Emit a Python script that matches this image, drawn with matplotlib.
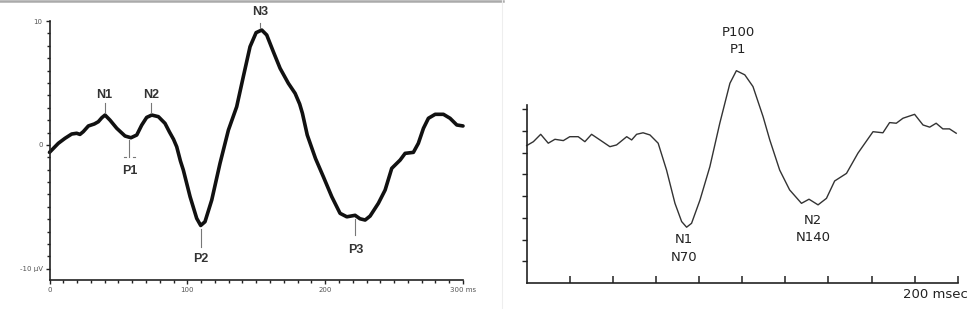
import matplotlib
matplotlib.use("Agg")
import matplotlib.pyplot as plt
from matplotlib.ticker import MultipleLocator, FixedLocator

# ---------------- data: left panel (ms, µV) ----------------
left_t = [0, 6.4, 11.2, 16.1, 19.7, 22.1, 24.5, 28.2, 32.5, 35.4, 38, 40.3, 43.9, 48.8, 54.8,
          59.1, 63.3, 66.9, 70.5, 74.2, 79, 83.8, 87, 90, 92.3, 95, 97.1, 102, 106.8, 109.7,
          112.8, 117.7, 123.7, 129.8, 135.8, 140.6, 145.5, 149.9, 154, 157.6, 162.4, 167.3,
          173.3, 178.2, 181.5, 183.5, 187, 193, 198.7, 204.8, 210.8, 215.7, 221.7, 225.3, 229,
          232.6, 238.6, 243.5, 248.3, 254.4, 258, 264, 267.6, 271.3, 274.9, 279.8, 285.8,
          290.6, 295.5, 300]
left_v = [-0.6, 0.13, 0.53, 0.88, 0.94, 0.85, 1.07, 1.53, 1.69, 1.87, 2.2, 2.41, 2.0, 1.34, 0.72,
          0.58, 0.8, 1.6, 2.22, 2.41, 2.28, 1.74, 1.05, 0.45, -0.15, -1.3, -2.03, -4.18, -5.93,
          -6.5, -6.2, -4.45, -1.49, 1.2, 3.08, 5.5, 7.93, 9.06, 9.27, 8.87, 7.52, 6.18, 4.97,
          4.16, 3.3, 2.55, 0.8, -1.1, -2.57, -4.18, -5.52, -5.8, -5.68, -5.96, -6.06, -5.74,
          -4.71, -3.64, -1.89, -1.22, -0.68, -0.6, 0.13, 1.34, 2.15, 2.47, 2.47, 2.15, 1.61,
          1.53]
left_peaks = ["N1", "N2", "N3", "P1", "P2", "P3"]
left_peak_t = [40, 74, 153, 58, 110, 222]
left_xticks = [0, 100, 200, 300]
left_xticklabels = ["0", "100", "200", "300 ms"]
left_yticks = [-10, 0, 10]
left_yticklabels = ["-10 µV", "0", "10"]

# ---------------- data: right panel (ms, arbitrary units) ----------------
right_t = [0, 3.1, 6.5, 10, 13.1, 17, 20, 23.9, 27, 30.1, 34, 38.6, 41.7, 46.4, 48.7, 51, 54,
           57.2, 61, 64.9, 68.8, 71.9, 74.2, 76.5, 80.4, 85, 89.6, 94.3, 97.3, 101.2, 105,
           109.7, 112.8, 117.4, 122, 127.5, 131, 135.2, 139.1, 142.9, 148.4, 153.7, 160.7,
           165.3, 168.4, 171.5, 174.6, 180, 183.9, 187, 190, 193.1, 196.2, 199.3]
right_v = [6.33, 6.51, 6.85, 6.44, 6.62, 6.56, 6.74, 6.74, 6.51, 6.85, 6.59, 6.28, 6.36, 6.74,
           6.59, 6.85, 6.92, 6.82, 6.44, 5.2, 3.67, 2.83, 2.57, 2.75, 3.82, 5.36, 7.36, 9.2,
           9.78, 9.59, 9.05, 7.66, 6.59, 5.2, 4.29, 3.67, 3.86, 3.6, 3.9, 4.7, 5.05, 5.98, 6.97,
           6.92, 7.39, 7.36, 7.59, 7.77, 7.28, 7.18, 7.36, 7.1, 7.1, 6.9]
right_labels = ["P100\nP1", "N1\nN70", "N2\nN140"]
right_label_t = [98, 73, 133]
right_xticks = [20, 40, 60, 80, 100, 120, 140, 160, 180, 200]
right_yticks = [1, 2, 3, 4, 5, 6, 7, 8]
right_xlabel = "200 msec"

W, H = 980, 309
fig = plt.figure(figsize=(W / 100, H / 100), dpi=100)
fig.patch.set_facecolor("white")


def frac(x0, y_top, x1, y_bot):
    return [x0 / W, (H - y_bot) / H, (x1 - x0) / W, (y_bot - y_top) / H]


# ---------- left panel ----------
axL = fig.add_axes(frac(49.5, 21, 463, 280))
axL.plot(left_t, left_v, color="#111111", lw=2.6, solid_capstyle="round",
         solid_joinstyle="round", clip_on=False)
axL.set_xlim(0, 300)
axL.set_ylim(-10.9, 10)
for s in ["top", "right"]:
    axL.spines[s].set_visible(False)
for s in ["left", "bottom"]:
    axL.spines[s].set_color("#222222")
    axL.spines[s].set_linewidth(1.2)
axL.set_xticks(left_xticks)
axL.set_xticklabels(left_xticklabels)
axL.set_yticks(left_yticks)
axL.set_yticklabels(left_yticklabels)
axL.xaxis.set_minor_locator(MultipleLocator(10))
axL.yaxis.set_minor_locator(MultipleLocator(1))
axL.tick_params(axis="both", which="major", labelsize=5, labelcolor="#555555",
                color="#222222", width=1.0, length=3, direction="out", pad=2)
axL.tick_params(axis="both", which="minor", color="#222222", width=1.0, length=2.2,
                direction="out")

lab_kw = dict(ha="center", va="center", fontsize=9, fontweight="bold", color="#333333",
              family=["Liberation Sans", "DejaVu Sans"], clip_on=False)
line_kw = dict(color="#777777", lw=0.8, clip_on=False)
left_lab_y = [4.0, 4.0, 10.7, -2.1, -9.2, -8.5]
left_line_span = [(2.6, 3.4), (2.6, 3.4), (9.4, 9.85), (0.4, -1.0), (-6.75, -8.2), (-6.0, -7.3)]
for name, t, ly, (a, b) in zip(left_peaks, left_peak_t, left_lab_y, left_line_span):
    axL.text(t, ly, name, **lab_kw)
    axL.plot([t, t], [a, b], **line_kw)
# dotted bracket under P1
axL.plot([54, 55.5], [-1.0, -1.0], **line_kw)
axL.plot([60.5, 62], [-1.0, -1.0], **line_kw)

# ---------- right panel ----------
axR = fig.add_axes(frac(526.7, 105, 957.7, 283))
axR.plot(right_t, right_v, color="#333333", lw=1.0, clip_on=False)
axR.set_xlim(0, 200)
axR.set_ylim(0, 8.2)
for s in ["top", "right"]:
    axR.spines[s].set_visible(False)
for s in ["left", "bottom"]:
    axR.spines[s].set_color("#222222")
    axR.spines[s].set_linewidth(1.2)
axR.xaxis.set_major_locator(FixedLocator(right_xticks))
axR.yaxis.set_major_locator(FixedLocator(right_yticks))
axR.set_xticklabels([])
axR.set_yticklabels([])
axR.tick_params(axis="x", direction="in", length=5, width=1.1, color="#222222")
axR.tick_params(axis="y", direction="out", length=3.5, width=1.0, color="#222222")

rkw = dict(ha="center", va="center", fontsize=9.5, color="#222222",
           family=["DejaVu Sans"], clip_on=False, linespacing=1.45)
right_label_y = [11.15, 1.58, 2.48]
for txt, t, y in zip(right_labels, right_label_t, right_label_y):
    axR.text(t, y, txt, **rkw)
axR.text(189.5, -0.55, right_xlabel, **rkw)

# frame of the left screenshot
fig.add_artist(plt.Line2D([0, 503 / W], [1 - 1.2 / H, 1 - 1.2 / H], color="#aaaaaa",
                          lw=1.8, transform=fig.transFigure))
fig.add_artist(plt.Line2D([501.7 / W, 501.7 / W], [0, 1], color="#eeeeee", lw=0.8,
                          transform=fig.transFigure))

fig.savefig("out.png", dpi=100, facecolor="white")
